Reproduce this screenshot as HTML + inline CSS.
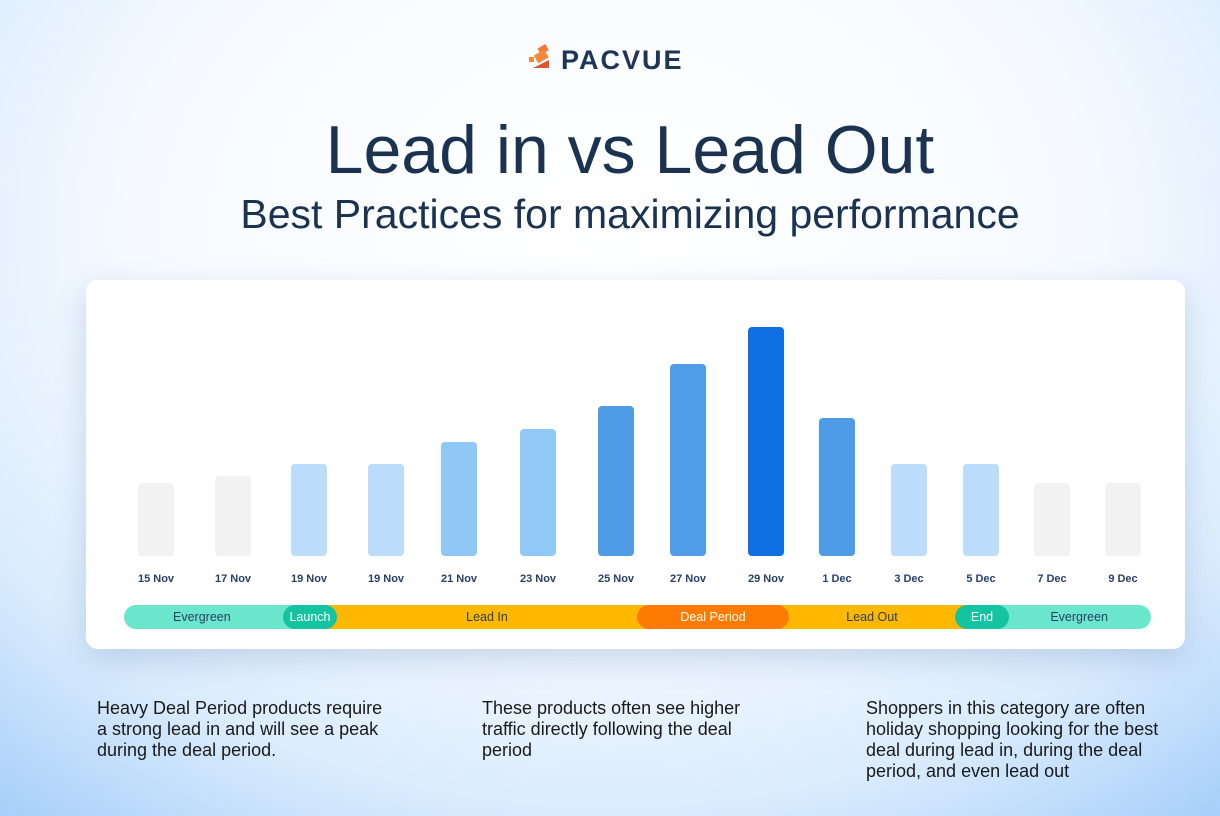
<!DOCTYPE html>
<html><head><style>
body{margin:0;width:1220px;height:816px;overflow:hidden;font-family:"Liberation Sans",Arial,sans-serif;
background:radial-gradient(ellipse 950px 750px at 610px 230px,#ffffff 0%,#f6faff 50%,#d9ebfd 78%,#a9d0fa 100%);position:relative;color:#1b3350}
.abs{position:absolute}
.card{left:86px;top:280px;width:1099px;height:369px;background:#fff;border-radius:12px;box-shadow:0 10px 30px rgba(80,120,170,.25)}
.bar{position:absolute;width:36px;bottom:260px;border-radius:4px}
.lab{position:absolute;top:573px;width:80px;text-align:center;font-size:11px;font-weight:bold;color:#2a3f66}
.seg{position:absolute;top:605px;height:24px;line-height:24px;text-align:center;font-size:12.5px}
.p{top:698px;font-size:18px;line-height:21px;color:#1a1a1a;width:310px}
</style></head><body>
<div class="abs" style="left:527px;top:44px;width:30px;height:28px">
<svg width="30" height="28"><rect x="12" y="2" width="9" height="7" fill="#f07a3a" transform="rotate(-30 16 6)"/><rect x="8" y="8" width="12" height="9" fill="#f58a3c" transform="rotate(-30 14 12)"/><rect x="2" y="13" width="5" height="5" fill="#f58a3c"/><polygon points="6,24 22,16 22,24" fill="#e0562b"/></svg></div>
<div class="abs" style="left:561px;top:45px;font-size:27px;font-weight:bold;letter-spacing:2px;color:#1e3556">PACVUE</div>
<div class="abs" style="left:0;width:1260px;top:111px;text-align:center;font-size:68px;color:#1b3350">Lead in vs Lead Out</div>
<div class="abs" style="left:0;width:1260px;top:191px;text-align:center;font-size:41px;color:#1b3350">Best Practices for maximizing performance</div>
<div class="abs card"></div>
<div class="bar" style="left:138px;top:483px;background:#f2f2f2"></div>
<div class="bar" style="left:215px;top:476px;background:#f2f2f2"></div>
<div class="bar" style="left:291px;top:464px;background:#bbdcfa"></div>
<div class="bar" style="left:368px;top:464px;background:#bbdcfa"></div>
<div class="bar" style="left:441px;top:442px;background:#8fc8f7"></div>
<div class="bar" style="left:520px;top:429px;background:#90c9f8"></div>
<div class="bar" style="left:598px;top:406px;background:#4e9be6"></div>
<div class="bar" style="left:670px;top:364px;background:#4f9de8"></div>
<div class="bar" style="left:748px;top:327px;background:#0f6fe3"></div>
<div class="bar" style="left:819px;top:418px;background:#4e9be6"></div>
<div class="bar" style="left:891px;top:464px;background:#bbdcfa"></div>
<div class="bar" style="left:963px;top:464px;background:#bbdcfa"></div>
<div class="bar" style="left:1034px;top:483px;background:#f2f2f2"></div>
<div class="bar" style="left:1105px;top:483px;background:#f2f2f2"></div>
<div class="lab" style="left:116px">15 Nov</div>
<div class="lab" style="left:193px">17 Nov</div>
<div class="lab" style="left:269px">19 Nov</div>
<div class="lab" style="left:346px">19 Nov</div>
<div class="lab" style="left:419px">21 Nov</div>
<div class="lab" style="left:498px">23 Nov</div>
<div class="lab" style="left:576px">25 Nov</div>
<div class="lab" style="left:648px">27 Nov</div>
<div class="lab" style="left:726px">29 Nov</div>
<div class="lab" style="left:797px">1 Dec</div>
<div class="lab" style="left:869px">3 Dec</div>
<div class="lab" style="left:941px">5 Dec</div>
<div class="lab" style="left:1012px">7 Dec</div>
<div class="lab" style="left:1083px">9 Dec</div>
<div class="seg" style="left:124px;width:200px;background:#6ae6cc;border-radius:12px 0 0 12px;color:#2a3f66;text-align:left;padding-left:49px;box-sizing:border-box">Evergreen</div>
<div class="seg" style="left:300px;width:690px;background:#ffb800"></div>
<div class="seg" style="left:975px;width:176px;background:#6ae6cc;border-radius:0 12px 12px 0;color:#2a3f66;text-align:right;padding-right:43px;box-sizing:border-box">Evergreen</div>
<div class="seg" style="left:283px;width:54px;background:#14c4a0;border-radius:12px;color:#fff">Launch</div>
<div class="seg" style="left:437px;width:100px;color:#2a3f66">Lead In</div>
<div class="seg" style="left:637px;width:152px;background:#ff7a00;border-radius:12px;color:#fff">Deal Period</div>
<div class="seg" style="left:822px;width:100px;color:#2a3f66">Lead Out</div>
<div class="seg" style="left:955px;width:54px;background:#14c4a0;border-radius:12px;color:#fff">End</div>
<div class="abs p" style="left:97px;width:300px">Heavy Deal Period products require<br>a strong lead in and will see a peak<br>during the deal period.</div>
<div class="abs p" style="left:482px;width:290px">These products often see higher<br>traffic directly following the deal<br>period</div>
<div class="abs p" style="left:866px;width:340px">Shoppers in this category are often<br>holiday shopping looking for the best<br>deal during lead in, during the deal<br>period, and even lead out</div>
</body></html>
